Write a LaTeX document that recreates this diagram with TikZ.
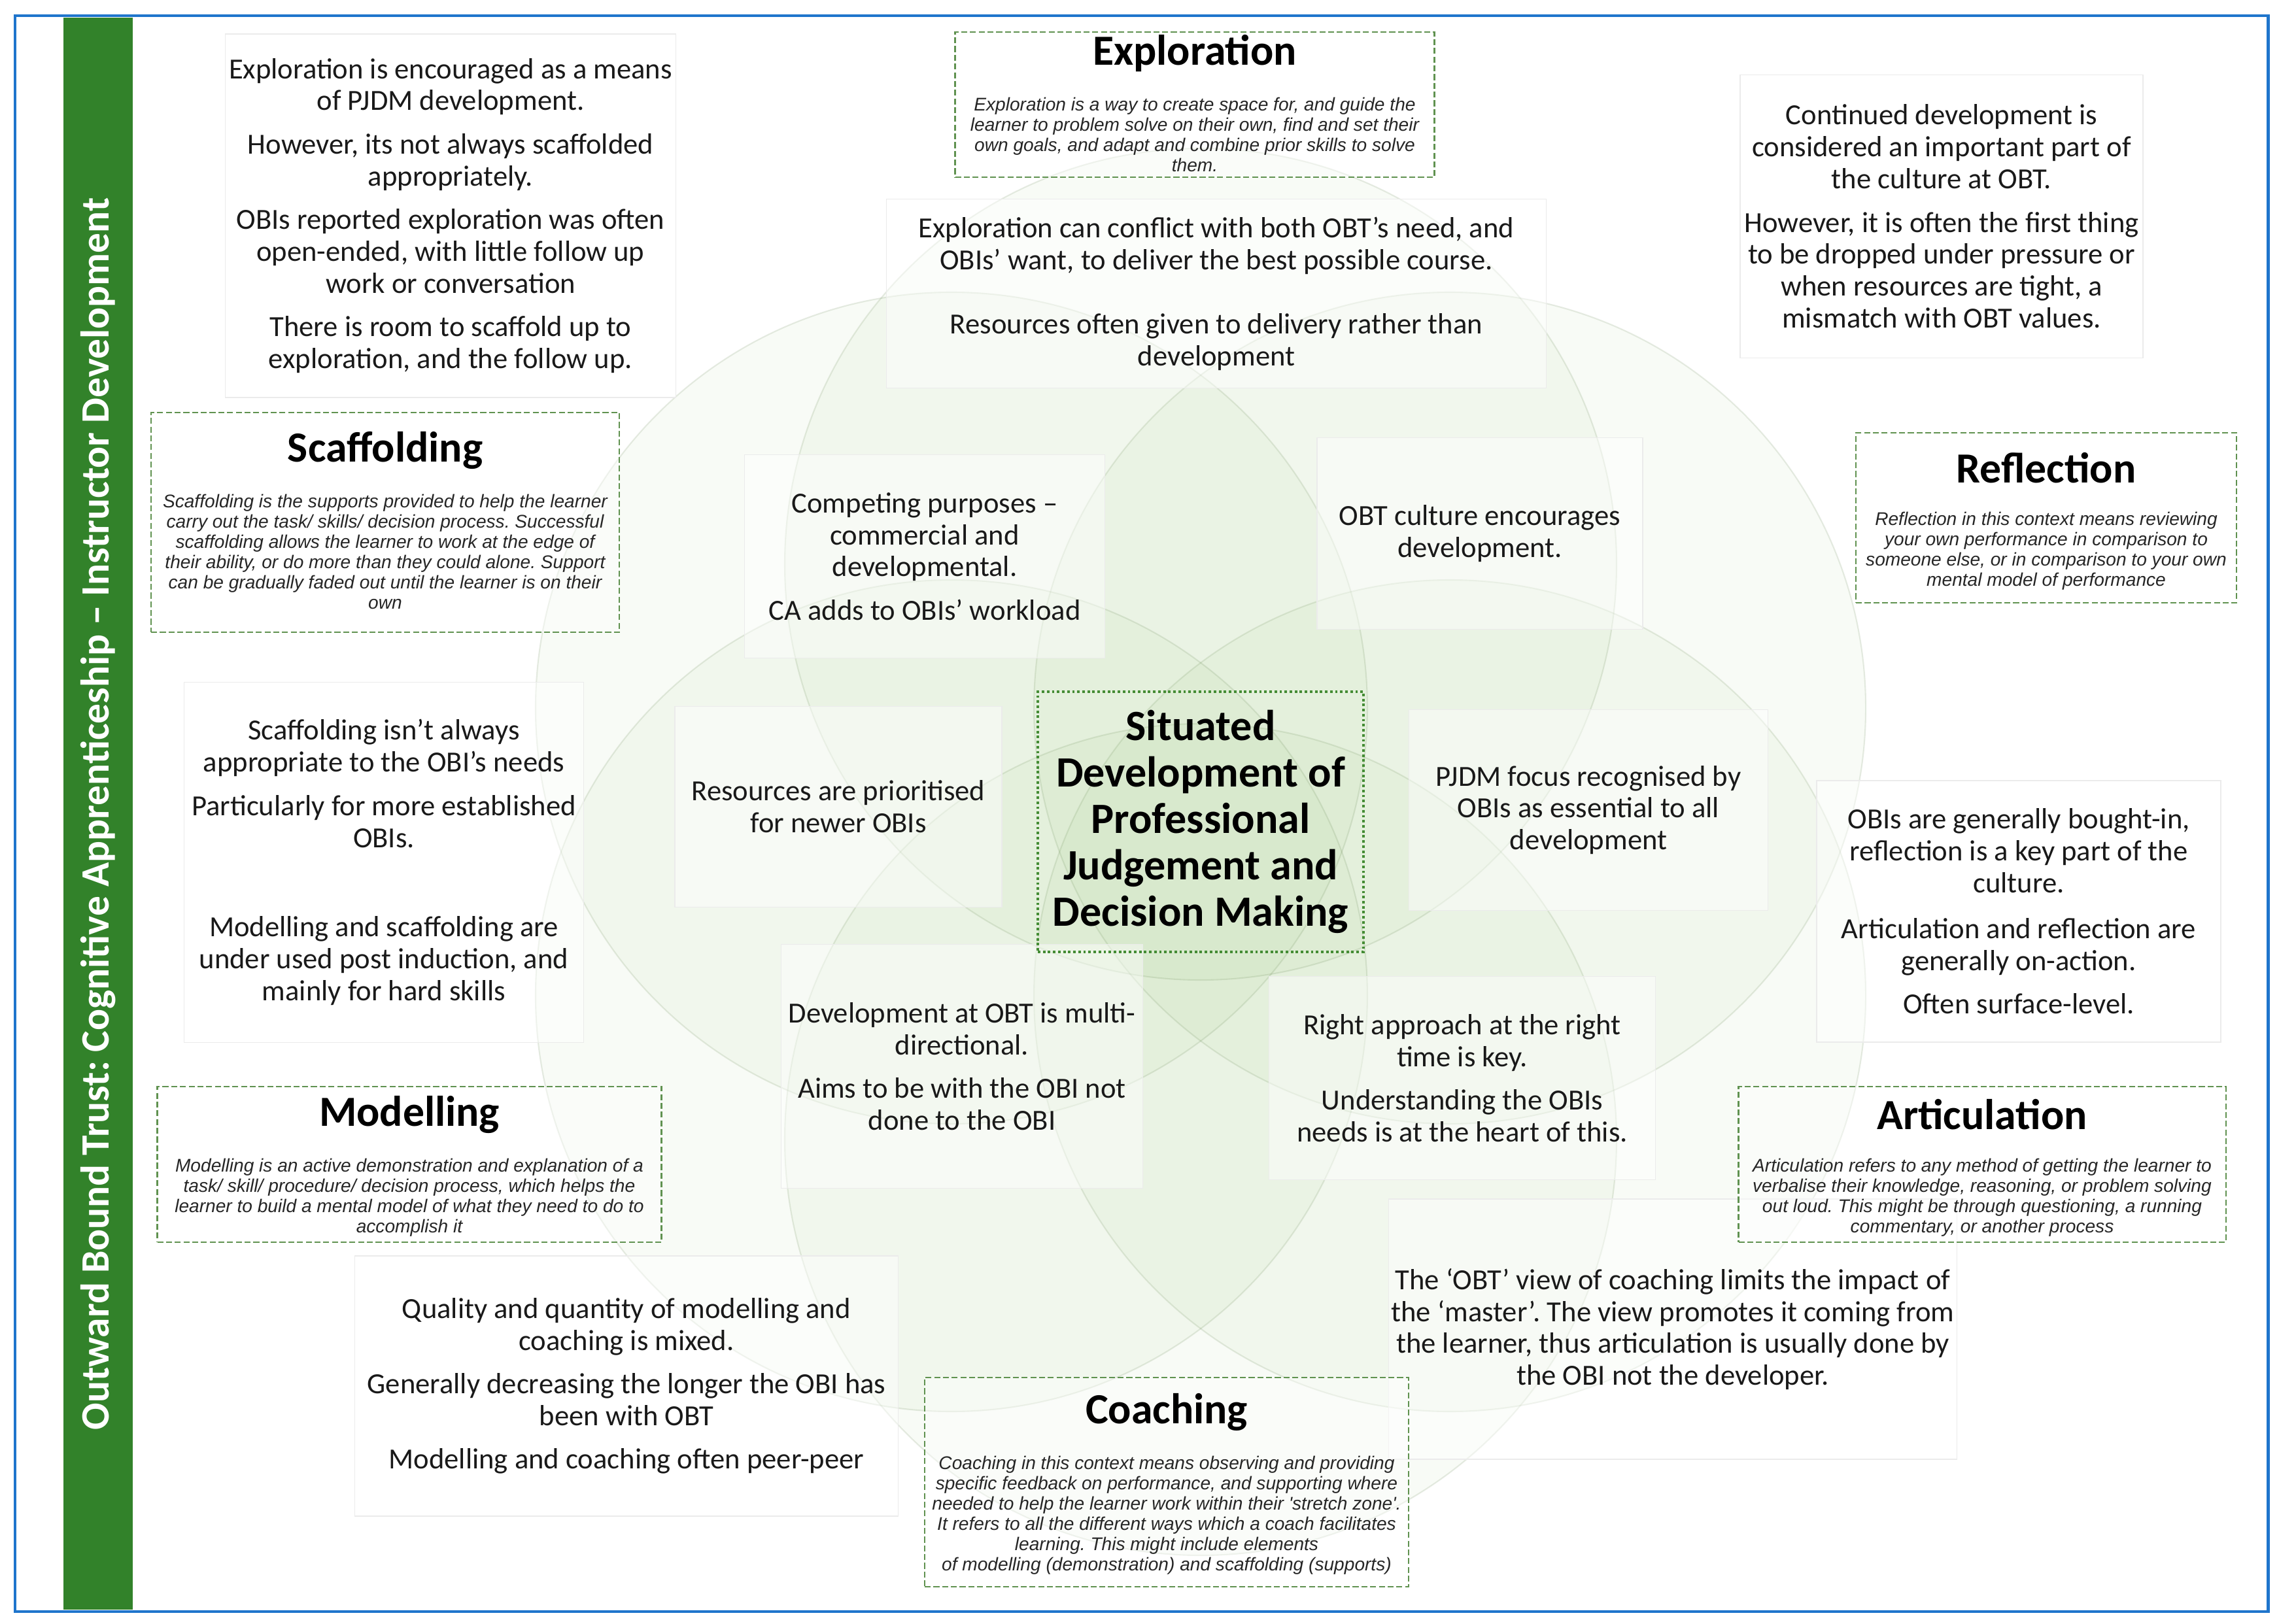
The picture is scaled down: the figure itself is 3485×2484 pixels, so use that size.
\documentclass[tikz,border=0pt]{standalone}
\usepackage{fontspec}
\setmainfont{Carlito}
\newfontfamily\arialfont{Liberation Sans}
\usetikzlibrary{positioning, calc}
\definecolor{obtblue}{RGB}{31,117,204}
\definecolor{obtgreen}{RGB}{50,130,42}
\definecolor{venngreen}{RGB}{112,173,71}
\definecolor{dashgreen}{RGB}{96,146,80}
\definecolor{dotgreen}{RGB}{68,140,52}
\newcommand*{\bodyfont}{\fontsize{12.7}{13.9}\selectfont}
\newcommand*{\titlefont}{\fontsize{18.7}{22}\selectfont\bfseries}
\newcommand*{\descfont}{\arialfont\itshape\fontsize{8}{8.8}\selectfont}
\newcommand*{\hubfont}{\fontsize{18.8}{20.2}\selectfont\bfseries}
\frenchspacing

\begin{document}
\begin{tikzpicture}[x=0.1mm, y=-0.1mm,
      venn/.style={circle, inner sep=0pt, minimum size=127.2mm, fill=venngreen, fill opacity=0.05,
        draw=venngreen!60!black, draw opacity=0.13, line width=0.6pt},
      note/.style={draw=black!8, line width=0.4pt, fill=white, fill opacity=0.45, text opacity=1,
        align=center, inner sep=0pt, font=\bodyfont, text=black!90},
      defbox/.style={draw=dashgreen, dash pattern=on 2.6pt off 1.2pt, line width=0.6pt,
        fill=white, fill opacity=0.4, inner sep=0pt},
      deftitle/.style={font=\titlefont, inner sep=0pt, text=black},
      defdesc/.style={font=\descfont, align=center, inner sep=0pt, text=black!85}]
  \useasboundingbox (0,0) rectangle (3485,2484);

  % side bar and frame
  \fill[obtgreen] (97,27) rectangle (203,2462);
  \node[rotate=90, text=white, font=\fontsize{17.5}{19}\selectfont\bfseries] (barTitle) at (150,1245)
    {Outward Bound Trust: Cognitive Apprenticeship – Instructor Development};
  \draw[obtblue, line width=1.4pt] (23,24) rectangle (3468,2465);

  % six overlapping circles
  \coordinate (hub) at (1836,1303);
  \foreach \a/\name in {90/vTop, 30/vUpR, -30/vLowR, -90/vBot, -150/vLowL, 150/vUpL}
    \node[venn] (\name) at ($(hub)+(\a:440)$) {};

  % notes
  \node[note, minimum width=68.9mm, minimum height=55.6mm] (noteExplore) at (689,330)
    {Exploration is encouraged as a means\\ of PJDM development.\\[5pt]
     However, its not always scaffolded\\ appropriately.\\[5pt]
     OBIs reported exploration was often\\ open-ended, with little follow up\\ work or conversation\\[5pt]
     There is room to scaffold up to\\ exploration, and the follow up.};
  \node[note, minimum width=100.9mm, minimum height=28.9mm] (noteConflict) at (1860,449)
    {Exploration can conflict with both OBT’s need, and\\ OBIs’ want, to deliver the best possible course.\\[14pt]
     Resources often given to delivery rather than\\ development};
  \node[note, minimum width=61.6mm, minimum height=43.3mm] (noteCulture) at (2969,331)
    {Continued development is\\ considered an important part of\\ the culture at OBT.\\[5pt]
     However, it is often the first thing\\ to be dropped under pressure or\\ when resources are tight, a\\ mismatch with OBT values.};
  \node[note, minimum width=55.1mm, minimum height=31.1mm] (notePurpose) at (1414,851)
    {Competing purposes –\\ commercial and\\ developmental.\\[5pt] CA adds to OBIs’ workload};
  \node[note, minimum width=49.8mm, minimum height=29.3mm] (noteEncourage) at (2263,816)
    {OBT culture encourages\\ development.};
  \node[note, minimum width=61.1mm, minimum height=55.1mm] (noteScaffold) at (587,1319)
    {Scaffolding isn’t always\\ appropriate to the OBI’s needs\\[5pt]
     Particularly for more established\\ OBIs.\\[25pt]
     Modelling and scaffolding are\\ under used post induction, and\\ mainly for hard skills};
  \node[note, minimum width=50mm, minimum height=30.7mm] (noteNewer) at (1282,1234)
    {Resources are prioritised\\ for newer OBIs};
  \node[note, minimum width=54.9mm, minimum height=30.7mm] (notePJDM) at (2429,1239)
    {PJDM focus recognised by\\ OBIs as essential to all\\ development};
  \node[note, minimum width=61.8mm, minimum height=40mm] (noteReflect) at (3087,1394)
    {OBIs are generally bought-in,\\ reflection is a key part of the\\ culture.\\[6pt]
     Articulation and reflection are\\ generally on-action.\\[5pt] Often surface-level.};
  \node[note, minimum width=55.3mm, minimum height=37.3mm] (noteMulti) at (1471,1631)
    {Development at OBT is multi-\\ directional.\\[5pt] Aims to be with the OBI not\\ done to the OBI};
  \node[note, minimum width=59.1mm, minimum height=31.1mm] (noteTiming) at (2236,1649)
    {Right approach at the right\\ time is key.\\[5pt] Understanding the OBIs\\ needs is at the heart of this.};
  \node[note, minimum width=83.1mm, minimum height=39.8mm] (noteQuality) at (958,2120)
    {Quality and quantity of modelling and\\ coaching is mixed.\\[5pt]
     Generally decreasing the longer the OBI has\\ been with OBT\\[5pt]
     Modelling and coaching often peer-peer};
  \node[note, minimum width=86.9mm, minimum height=39.8mm] (noteMaster) at (2558,2033)
    {The ‘OBT’ view of coaching limits the impact of\\ the ‘master’. The view promotes it coming from\\
     the learner, thus articulation is usually done by\\ the OBI not the developer.};

  % definition boxes
  \node[defbox, minimum width=73.3mm, minimum height=22.2mm] (explBox) at (1827,160) {};
  \node[deftitle] (explTitle) at (1827,82) {Exploration};
  \node[defdesc, below=19pt of explTitle.center] (explDesc)
    {Exploration is a way to create space for, and guide the\\ learner to problem solve on their own, find and set their\\
     own goals, and adapt and combine prior skills to solve\\ them.};

  \node[defbox, minimum width=71.6mm, minimum height=33.6mm] (scafBox) at (589,799) {};
  \node[deftitle] (scafTitle) at (589,689) {Scaffolding};
  \node[defdesc, below=19pt of scafTitle.center] (scafDesc)
    {Scaffolding is the supports provided to help the learner\\ carry out the task/ skills/ decision process. Successful\\
     scaffolding allows the learner to work at the edge of\\ their ability, or do more than they could alone. Support\\
     can be gradually faded out until the learner is on their\\ own};

  \node[defbox, minimum width=58.2mm, minimum height=26mm] (reflBox) at (3129,792) {};
  \node[deftitle] (reflTitle) at (3129,716) {Reflection};
  \node[defdesc, below=19pt of reflTitle.center] (reflDesc)
    {Reflection in this context means reviewing\\ your own performance in comparison to\\
     someone else, or in comparison to your own\\ mental model of performance};

  \node[defbox, minimum width=77.1mm, minimum height=23.8mm] (modlBox) at (626,1781) {};
  \node[deftitle] (modlTitle) at (626,1705) {Modelling};
  \node[defdesc, below=19pt of modlTitle.center] (modlDesc)
    {Modelling is an active demonstration and explanation of a\\ task/ skill/ procedure/ decision process, which helps the\\
     learner to build a mental model of what they need to do to\\ accomplish it};

  \node[defbox, minimum width=74.5mm, minimum height=23.8mm] (artcBox) at (3031,1781) {};
  \node[deftitle] (artcTitle) at (3031,1705) {Articulation};
  \node[defdesc, below=19pt of artcTitle.center] (artcDesc)
    {Articulation refers to any method of getting the learner to\\ verbalise their knowledge, reasoning, or problem solving\\
     out loud. This might be through questioning, a running\\ commentary, or another process};

  \node[defbox, minimum width=74mm, minimum height=32mm] (coacBox) at (1784,2267) {};
  \node[deftitle] (coacTitle) at (1784,2160) {Coaching};
  \node[defdesc, below=19pt of coacTitle.center] (coacDesc)
    {Coaching in this context means observing and providing\\ specific feedback on performance, and supporting where\\
     needed to help the learner work within their 'stretch zone'.\\ It refers to all the different ways which a coach facilitates\\
     learning. This might include elements\\ of modelling (demonstration) and scaffolding (supports)};

  % centre
  \node[draw=dotgreen, line width=1.1pt, dash pattern=on 1.1pt off 1.1pt, minimum width=49.8mm,
    minimum height=39.8mm, align=center, font=\hubfont, inner sep=0pt] (hubBox) at (1836,1257)
    {Situated\\ Development of\\ Professional\\ Judgement and\\ Decision Making};
\end{tikzpicture}
\end{document}
